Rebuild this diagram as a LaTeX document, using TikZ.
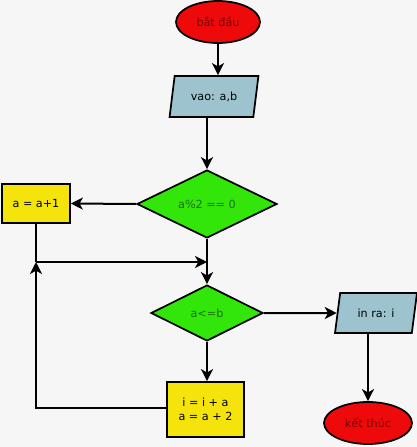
\documentclass[tikz,border=0pt]{standalone}
\usepackage{fontspec}
\setmainfont{DejaVu Sans}
\usetikzlibrary{shapes.geometric,arrows.meta}
\definecolor{bg}{HTML}{F6F6F6}
\definecolor{termred}{HTML}{EE0A0A}
\definecolor{termtext}{HTML}{7A0000}
\definecolor{ioblue}{HTML}{9CC3CE}
\definecolor{decgreen}{HTML}{33E60A}
\definecolor{dectext}{HTML}{1E6E10}
\definecolor{procyellow}{HTML}{F4E40C}
\begin{document}
\begin{tikzpicture}[x=0.75pt,y=-0.75pt,
  every node/.style={font=\fontsize{8.4}{10.5}\selectfont, inner sep=0pt, line width=1.3pt, draw=black},
  term/.style={ellipse, fill=termred, text=termtext},
  io/.style={trapezium, trapezium stretches=true, trapezium left angle=73, trapezium right angle=107, fill=ioblue, text=black},
  dec/.style={diamond, fill=decgreen, text=dectext},
  proc/.style={rectangle, fill=procyellow, text=black, align=center},
  conn/.style={line width=1.5pt, -{Stealth[length=9pt,width=9pt,inset=2.5pt]}},
  plain/.style={line width=1.5pt}
]
\fill[bg] (0,0) rectangle (417,447);
\useasboundingbox (0,0) rectangle (417,447);

\node[term, minimum width=63pt, minimum height=31.5pt] (start) at (218,22) {bắt đầu};
\node[io, minimum width=66.75pt, minimum height=30.75pt] (in1) at (214,96.5) {vao: a,b};
\node[dec, minimum width=105pt, minimum height=51pt, aspect=2.06] (d1) at (207,204) {a\%2 == 0};
\node[proc, minimum width=51pt, minimum height=29.25pt] (b1) at (36,203.5) {a = a+1};
\node[dec, minimum width=84pt, minimum height=42pt, aspect=2] (d2) at (207,313) {a<=b};
\node[io, minimum width=61.5pt, minimum height=30pt] (out) at (376,313) {in ra: i};
\node[term, minimum width=66pt, minimum height=31.5pt] (end) at (368,423) {kết thúc};
\node[proc, minimum width=57.75pt, minimum height=41.25pt] (b2) at (205.5,409.5) {i = i + a\\a = a + 2};

\coordinate (j) at (36,262);
\coordinate (m) at (207,262);
\coordinate (lc) at (36,408);

\draw[conn] (start.south) -- (start.south |- in1.north);
\draw[conn] (d1.north |- in1.south) -- (d1.north);
\draw[conn] (d1.west) -- (b1.east);
\draw[plain] (b1.south) -- (j);
\draw[conn] (j) -- (m);
\draw[conn] (d1.south) -- (d2.north);
\draw[conn] (d2.east) -- (out.west);
\draw[conn] (d2.south) -- (d2.south |- b2.north);
\draw[conn] (out.south -| end.north) -- (end.north);
\draw[conn] (b2.west |- lc) -- (lc) -- (j);
\end{tikzpicture}
\end{document}
